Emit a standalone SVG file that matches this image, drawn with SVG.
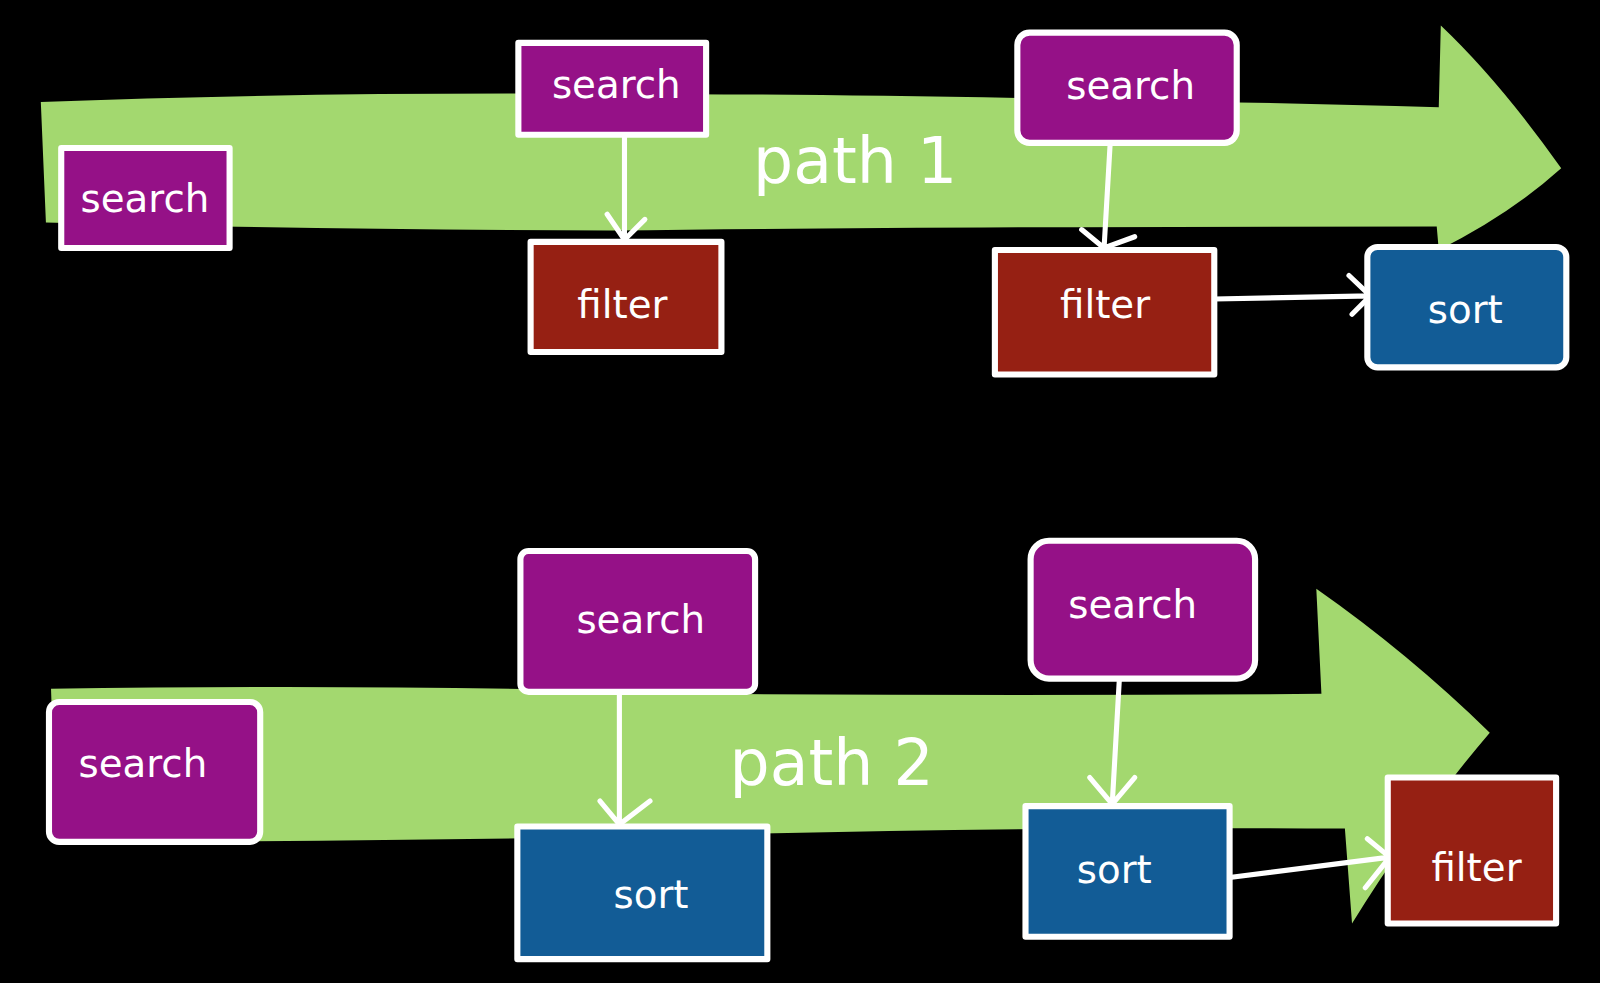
<svg xmlns="http://www.w3.org/2000/svg" width="1600" height="983" viewBox="0 0 1600 983">
<style>
.n{stroke:#fff;stroke-width:6;stroke-linejoin:round}
.p{fill:#951187}.r{fill:#962013}.b{fill:#125c96}
.t{fill:#fff;font-family:"DejaVu Sans",sans-serif;font-size:38px;text-anchor:middle;dominant-baseline:central}
.big{fill:#fff;font-family:"DejaVu Sans",sans-serif;font-size:62px;text-anchor:middle;dominant-baseline:central}
.c{fill:none;stroke:#fff;stroke-width:5;stroke-linecap:round;stroke-linejoin:round}
</style>
<rect width="1600" height="983" fill="#000"/>
<g transform="scale(1.0204)">
<g id="arrow1"><path d="M40,100 Q300,90 600,92 Q900,92 1410,105 L1412,25 Q1470,80 1530,165 Q1480,210 1410,245 L1408,222 Q900,222 600,226 Q300,225 45,218 Z" fill="#a3d86f"/>
<text class="big" x="838" y="158">path 1</text></g>
<g id="arrow2"><path d="M50,675 Q400,670 700,680 Q1000,682 1295,680 L1290,577 Q1380,640 1460,718 Q1390,800 1325,905 L1318,812 Q1000,810 700,818 Q400,825 55,825 Z" fill="#a3d86f"/>
<text class="big" x="815" y="748">path 2</text></g>
<g id="connectors">
<path class="c" d="M612,132 L612,235 M595,210 L612,235 L632,215"/>
<path class="c" d="M1088,140 L1082,243 M1060,225 L1082,243 L1112,232"/>
<path class="c" d="M1190,293 L1343,290 M1322,270 L1343,290 L1325,308"/>
<path class="c" d="M607,678 L607,808 M588,785 L607,808 L637,785"/>
<path class="c" d="M1097,665 L1090,788 M1068,762 L1090,788 L1112,762"/>
<path class="c" d="M1205,860 L1362,840 M1340,822 L1362,840 L1338,870"/>
</g>
<g id="search1"><rect class="n p" x="60" y="145" width="165" height="98"/><text class="t" x="142" y="195">search</text></g>
<g id="search2"><rect class="n p" x="508" y="42" width="184" height="90"/><text class="t" x="604" y="83">search</text></g>
<g id="filter1"><rect class="n r" x="520" y="237" width="187" height="108"/><text class="t" x="610" y="298">filter</text></g>
<g id="search3"><rect class="n p" x="997" y="32" width="215" height="108" rx="12"/><text class="t" x="1108" y="84">search</text></g>
<g id="filter2"><rect class="n r" x="975" y="245" width="215" height="122"/><text class="t" x="1083" y="298">filter</text></g>
<g id="sort1"><rect class="n b" x="1340" y="242" width="195" height="118" rx="10"/><text class="t" x="1436" y="303" font-size="44">sort</text></g>
<g id="search4"><rect class="n p" x="48" y="688" width="207" height="137" rx="10"/><text class="t" x="140" y="748">search</text></g>
<g id="search5"><rect class="n p" x="510" y="540" width="230" height="138" rx="8"/><text class="t" x="628" y="607">search</text></g>
<g id="sort2"><rect class="n b" x="507" y="810" width="245" height="130"/><text class="t" x="638" y="877" font-size="46">sort</text></g>
<g id="search6"><rect class="n p" x="1010" y="530" width="220" height="135" rx="18"/><text class="t" x="1110" y="592">search</text></g>
<g id="sort3"><rect class="n b" x="1005" y="790" width="200" height="128"/><text class="t" x="1092" y="852" font-size="46">sort</text></g>
<g id="filter3"><rect class="n r" x="1360" y="762" width="165" height="143"/><text class="t" x="1447" y="850">filter</text></g>
</g>
</svg>
